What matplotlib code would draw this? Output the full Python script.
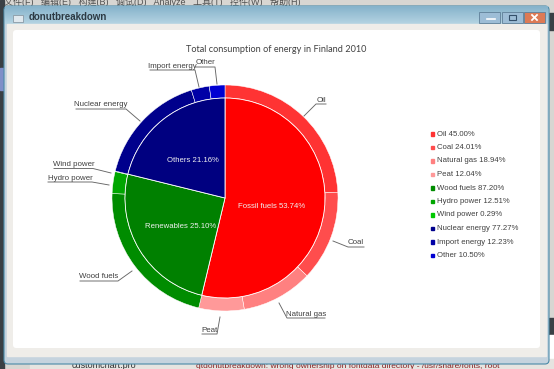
import matplotlib
matplotlib.use("Agg")
import matplotlib.pyplot as plt
from matplotlib.patches import Rectangle, FancyBboxPatch
import numpy as np

plt.rcParams['font.family'] = ['Liberation Sans', 'Noto Sans CJK SC', 'DejaVu Sans']

title = "Total consumption of energy in Finland 2010"
window_title = "donutbreakdown"

groups = ["Fossil fuels", "Renewables", "Others"]
group_share = [53.74, 25.10, 21.16]
group_colors = ["#ff0000", "#008000", "#000080"]

fossil_names = ["Oil", "Coal", "Natural gas", "Peat"]
fossil_pct = [45.00, 24.01, 18.94, 12.04]
renew_names = ["Wood fuels", "Hydro power", "Wind power"]
renew_pct = [87.20, 12.51, 0.29]
other_names = ["Nuclear energy", "Import energy", "Other"]
other_pct = [77.27, 12.23, 10.50]

fossil_colors = ["#ff3333", "#ff4d4d", "#ff8080", "#ff9999"]
renew_colors = ["#008c00", "#00a600", "#00c800"]
other_colors = ["#00008c", "#0000a6", "#0000d2"]

W, H = 554, 369


def Y(y):
    # picture rows run downwards, the axes upwards
    return H - y


fig = plt.figure(figsize=(W / 100, H / 100), dpi=100)
ax = fig.add_axes([0, 0, 1, 1])

# desktop behind the window
ax.add_patch(Rectangle((0, 0), W, H, color="#d8d6d2", zorder=0))
ax.add_patch(Rectangle((0, Y(369)), 4, 369, color="#3a4045", zorder=0))
ax.add_patch(Rectangle((0, Y(90)), 4, 22, color="#7f8fc8", zorder=0.1))
ax.add_patch(Rectangle((549, Y(30)), 5, 17, color="#3a4045", zorder=0))
ax.add_patch(Rectangle((549, Y(335)), 5, 17, color="#3a4045", zorder=0))
ax.add_patch(Rectangle((549, Y(369)), 5, 34, color="#ffffff", zorder=0))
ax.add_patch(Rectangle((30, 0), 524, 10, color="#e6e4e0", zorder=0))
ax.text(4, Y(2), "文件(F)   编辑(E)   构建(B)   调试(D)   Analyze   工具(T)   控件(W)   帮助(H)",
        fontsize=6.5, color="#505050", va="center", ha="left", zorder=0.2)
ax.text(72, Y(366), "customchart.pro", fontsize=6.5, color="#303030", va="center", zorder=0.2)
ax.text(196, Y(366), "qtdonutbreakdown: wrong ownership on fontdata directory - /usr/share/fonts, root",
        fontsize=6, color="#8a2020", va="center", zorder=0.2)

# window frame
ax.add_patch(FancyBboxPatch((4, Y(364)), 545, 358, boxstyle="round,pad=0,rounding_size=4",
                            fc="#c5d3de", ec="#4a8aa8", lw=0.8, zorder=1))
ax.imshow(np.linspace(0, 1, 20).reshape(-1, 1), extent=(5, 548, Y(24), Y(6)),
          cmap=matplotlib.colors.LinearSegmentedColormap.from_list("bar", ["#86b3cb", "#b4d3e2"]),
          aspect="auto", zorder=1.2, origin="upper")
ax.add_patch(Rectangle((7, Y(356)), 539, 332, color="#efede9", zorder=1.3))
ax.add_patch(FancyBboxPatch((13, Y(348)), 527, 318, boxstyle="round,pad=0,rounding_size=3",
                            fc="white", ec="none", zorder=1.4))
ax.add_patch(Rectangle((13, Y(22)), 10, 7, fc="#dfe8ee", ec="#8a9aa5", lw=0.6, zorder=1.5))
ax.text(29, Y(17), window_title, fontsize=7, fontweight="bold", color="#2c3a44",
        va="center", zorder=2)

# window buttons
for x0, w, col in [(479, 21, "#9dbdd6"), (502, 21, "#9dbdd6"), (524, 21, "#dd7a55")]:
    ax.add_patch(Rectangle((x0, Y(23)), w, 11, fc=col, ec="#5f7f98", lw=0.6, zorder=2))
ax.plot([487, 495], [Y(19), Y(19)], color="white", lw=1.2, zorder=3)
ax.add_patch(Rectangle((509, Y(20)), 7, 5, fc="none", ec="#34506a", lw=0.8, zorder=3))
ax.plot([532, 537], [Y(15), Y(20)], color="white", lw=1.3, zorder=3)
ax.plot([532, 537], [Y(20), Y(15)], color="white", lw=1.3, zorder=3)

ax.text(276.5, Y(49), title, fontsize=6.6, color="#404040", ha="center", va="center",
        family=["Lato"], zorder=5)

# donut
cx, cy, r_in, r_out = 225, Y(198), 100, 113
outer_vals = []
outer_cols = []
for share, pcts, cols in zip(group_share,
                             [fossil_pct, renew_pct, other_pct],
                             [fossil_colors, renew_colors, other_colors]):
    for p, c in zip(pcts, cols):
        outer_vals.append(share * p / 100)
        outer_cols.append(c)

ax.pie(outer_vals, colors=outer_cols, radius=r_out, center=(cx, cy), startangle=90,
       counterclock=False, frame=True, normalize=True,
       wedgeprops=dict(width=r_out - r_in, edgecolor="#ffffff", linewidth=0.35, zorder=3))
ax.pie(group_share, colors=group_colors, radius=r_in, center=(cx, cy), startangle=90,
       counterclock=False, frame=True, normalize=True,
       wedgeprops=dict(edgecolor="#ffffff", linewidth=0.6, zorder=3))

# group labels inside the donut
inner_pos = {"Fossil fuels": (272, 207), "Renewables": (181, 226), "Others": (192.5, 161)}
for g, s in zip(groups, group_share):
    px, py = inner_pos[g]
    ax.text(px, Y(py), "%s %.2f%%" % (g, s), fontsize=5.6, color="#f0f0f0",
            ha="center", va="center", zorder=6)

# callouts: arm start, elbow, far end of the underline
callouts = {
    "Oil": ((304, 116), (316, 104), (326, 104)),
    "Coal": ((333, 241), (348, 247), (364, 247)),
    "Natural gas": ((279, 303), (287, 318), (325, 318)),
    "Peat": ((220, 317), (217, 334), (202, 334)),
    "Wood fuels": ((132, 271), (118, 281), (80, 281)),
    "Hydro power": ((109, 185), (92, 182), (48, 182)),
    "Wind power": ((111, 173), (93, 168.5), (54, 168.5)),
    "Nuclear energy": ((140, 121), (126, 109), (76, 109)),
    "Import energy": ((199, 87), (195, 70), (150, 70)),
    "Other": ((217, 84), (215, 67), (196, 67)),
}
for name, (a, b, c) in callouts.items():
    ax.plot([a[0], b[0], c[0]], [Y(a[1]), Y(b[1]), Y(c[1])], color="#666666", lw=0.65, zorder=5)
    ax.text((b[0] + c[0]) / 2, Y(b[1]) + 0.5, name, fontsize=5.7, color="#404040",
            ha="center", va="bottom", zorder=6)

# legend
legend_names = fossil_names + renew_names + other_names
legend_pct = fossil_pct + renew_pct + other_pct
legend_cols = fossil_colors + renew_colors + other_colors
for i, (n, p, c) in enumerate(zip(legend_names, legend_pct, legend_cols)):
    y = 134 + i * 13.5
    ax.add_patch(Rectangle((430.5, Y(y + 1.8)), 3.6, 3.6, color=c, zorder=5))
    ax.text(437, Y(y), "%s %.2f%%" % (n, p), fontsize=5.55, color="#404040",
            va="center", ha="left", zorder=6)

ax.set_xlim(0, W)
ax.set_ylim(0, H)
ax.set_aspect("auto")
ax.axis("off")

fig.savefig("out.png", dpi=100)
